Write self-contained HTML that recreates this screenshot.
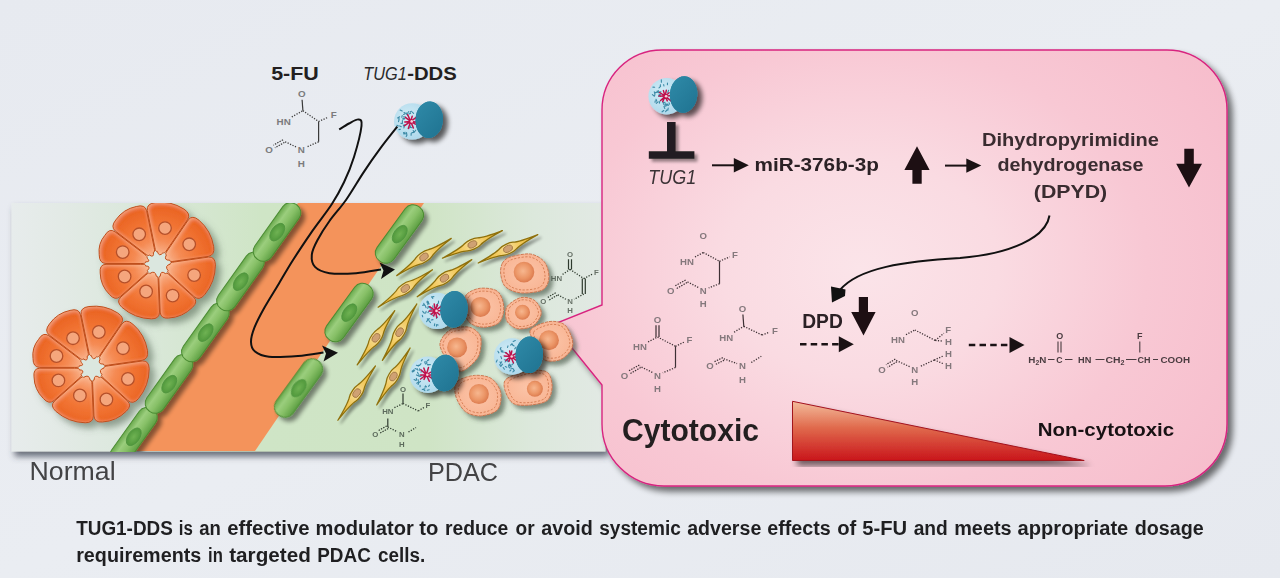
<!DOCTYPE html>
<html lang="en"><head><meta charset="utf-8"><title>TUG1-DDS graphical abstract</title>
<style>html,body{margin:0;padding:0;background:#e9ecf1;}body{width:1280px;height:578px;overflow:hidden;font-family:"Liberation Sans", sans-serif;}svg{display:block}</style>
</head><body>
<svg width="1280" height="578" viewBox="0 0 1280 578">
<defs>
<linearGradient id="bg" x1="0" y1="0" x2="1" y2="1">
 <stop offset="0" stop-color="#e7eaf0"/><stop offset="0.5" stop-color="#eaedf2"/><stop offset="1" stop-color="#e6e9ef"/>
</linearGradient>
<linearGradient id="panel" x1="0" y1="0" x2="1" y2="0">
 <stop offset="0" stop-color="#e7ecec"/><stop offset="0.08" stop-color="#e3eae6"/><stop offset="0.2" stop-color="#dbe8dc"/><stop offset="0.42" stop-color="#cfe5c6"/>
 <stop offset="0.7" stop-color="#cfe4c5"/><stop offset="0.88" stop-color="#dce8dc"/><stop offset="1" stop-color="#e2e9e4"/>
</linearGradient>
<radialGradient id="pink" gradientUnits="userSpaceOnUse" cx="860" cy="268" r="430" gradientTransform="translate(860 268) scale(1.15 0.9) translate(-860 -268)">
 <stop offset="0" stop-color="#fbe4e9"/><stop offset="0.28" stop-color="#fadbe2"/><stop offset="0.58" stop-color="#f8c8d4"/><stop offset="1" stop-color="#f6b9c9"/>
</radialGradient>
<linearGradient id="tri" x1="0" y1="0" x2="0" y2="1">
 <stop offset="0" stop-color="#f3bd9c"/><stop offset="0.45" stop-color="#e0694c"/><stop offset="1" stop-color="#c9151b"/>
</linearGradient>
<linearGradient id="gcell" x1="0" y1="0" x2="0" y2="1">
 <stop offset="0" stop-color="#69a94d"/><stop offset="0.3" stop-color="#9bce7d"/><stop offset="0.6" stop-color="#87c067"/><stop offset="1" stop-color="#5d9f43"/>
</linearGradient>
<radialGradient id="gnuc" cx="0.5" cy="0.5" r="0.6">
 <stop offset="0" stop-color="#6fb253"/><stop offset="1" stop-color="#4a9337"/>
</radialGradient>
<linearGradient id="spin" x1="0" y1="0" x2="1" y2="0">
 <stop offset="0" stop-color="#e8ad1a"/><stop offset="0.3" stop-color="#f2c95c"/><stop offset="0.5" stop-color="#f7dd96"/><stop offset="0.7" stop-color="#f2c95c"/><stop offset="1" stop-color="#e8ad1a"/>
</linearGradient>
<radialGradient id="cnuc" cx="0.45" cy="0.45" r="0.6">
 <stop offset="0" stop-color="#f7b78f"/><stop offset="0.6" stop-color="#eb9566"/><stop offset="1" stop-color="#d9764a"/>
</radialGradient>
<radialGradient id="ccell" cx="0.5" cy="0.5" r="0.6">
 <stop offset="0" stop-color="#fbc4a8"/><stop offset="0.7" stop-color="#f9b898"/><stop offset="1" stop-color="#f7ae8b"/>
</radialGradient>
<radialGradient id="lb" cx="0.4" cy="0.4" r="0.7">
 <stop offset="0" stop-color="#d3ecf6"/><stop offset="1" stop-color="#a9d6ea"/>
</radialGradient>
<linearGradient id="teal" x1="0" y1="0" x2="1" y2="1">
 <stop offset="0" stop-color="#2f8aa8"/><stop offset="1" stop-color="#1f7391"/>
</linearGradient>
<filter id="sh" x="-20%" y="-20%" width="150%" height="150%">
 <feGaussianBlur in="SourceAlpha" stdDeviation="2.2"/><feOffset dx="4" dy="4"/>
 <feComponentTransfer><feFuncA type="linear" slope="0.45"/></feComponentTransfer>
 <feMerge><feMergeNode/><feMergeNode in="SourceGraphic"/></feMerge>
</filter>
<filter id="shn" x="-30%" y="-30%" width="170%" height="170%">
 <feGaussianBlur in="SourceAlpha" stdDeviation="2.4"/><feOffset dx="4.5" dy="3.5"/>
 <feComponentTransfer><feFuncA type="linear" slope="0.62"/></feComponentTransfer>
 <feMerge><feMergeNode/><feMergeNode in="SourceGraphic"/></feMerge>
</filter>
<filter id="shc" x="-20%" y="-20%" width="150%" height="150%">
 <feGaussianBlur in="SourceAlpha" stdDeviation="2.2"/><feOffset dx="4" dy="4" result="o"/>
 <feFlood flood-color="#3f4f3f" flood-opacity="0.6"/><feComposite in2="o" operator="in"/>
 <feMerge><feMergeNode/><feMergeNode in="SourceGraphic"/></feMerge>
</filter>
<filter id="ig" x="-15%" y="-15%" width="130%" height="130%">
 <feComponentTransfer in="SourceAlpha" result="inv"><feFuncA type="table" tableValues="1 0"/></feComponentTransfer>
 <feGaussianBlur in="inv" stdDeviation="2.2"/><feOffset dx="0.8" dy="0.8"/>
 <feComposite in2="SourceAlpha" operator="in" result="g"/>
 <feFlood flood-color="#fcc7a4" flood-opacity="0.7"/><feComposite in2="g" operator="in" result="glow"/>
 <feMerge><feMergeNode in="SourceGraphic"/><feMergeNode in="glow"/></feMerge>
</filter>
<filter id="shs" x="-20%" y="-20%" width="150%" height="150%">
 <feGaussianBlur in="SourceAlpha" stdDeviation="1.6"/><feOffset dx="3" dy="3"/>
 <feComponentTransfer><feFuncA type="linear" slope="0.4"/></feComponentTransfer>
 <feMerge><feMergeNode/><feMergeNode in="SourceGraphic"/></feMerge>
</filter>
<filter id="shbig" x="-5%" y="-5%" width="112%" height="115%">
 <feGaussianBlur in="SourceAlpha" stdDeviation="3"/><feOffset dx="5" dy="5"/>
 <feComponentTransfer><feFuncA type="linear" slope="0.55"/></feComponentTransfer>
 <feMerge><feMergeNode/><feMergeNode in="SourceGraphic"/></feMerge>
</filter>
<filter id="shpanel" x="-3%" y="-5%" width="106%" height="112%">
 <feGaussianBlur in="SourceAlpha" stdDeviation="3"/><feOffset dx="3" dy="4.5" result="o"/>
 <feFlood flood-color="#3d4352" flood-opacity="0.75"/><feComposite in2="o" operator="in"/>
 <feMerge><feMergeNode/><feMergeNode in="SourceGraphic"/></feMerge>
</filter>
<filter id="shac" x="-20%" y="-20%" width="150%" height="150%">
 <feGaussianBlur in="SourceAlpha" stdDeviation="3.6"/><feOffset dx="5" dy="5" result="o"/>
 <feFlood flood-color="#4c5f4c" flood-opacity="0.55"/><feComposite in2="o" operator="in"/>
 <feMerge><feMergeNode/><feMergeNode in="SourceGraphic"/></feMerge>
</filter>
<clipPath id="pclip"><rect x="11.5" y="203" width="594" height="248.5"/></clipPath>
</defs>

<rect width="1280" height="578" fill="url(#bg)"/>
<rect x="11.5" y="203" width="594" height="248.5" fill="url(#panel)" filter="url(#shpanel)"/>
<g clip-path="url(#pclip)">
<polygon points="298,203 424,203 255,451 119,451" fill="#f4935b"/>
<radialGradient id="ac1" gradientUnits="userSpaceOnUse" cx="157.8" cy="263.9" r="60"><stop offset="0.18" stop-color="#f9b089"/><stop offset="0.4" stop-color="#f58b54"/><stop offset="0.7" stop-color="#f17332"/><stop offset="1" stop-color="#e96222"/></radialGradient>
<g filter="url(#shac)">
<circle cx="157.2" cy="260.9" r="50" fill="#e8692c"/>
<circle cx="157.8" cy="263.9" r="14.5" fill="#dbe7df"/>
<path d="M144.5,253.3 L115.4,231.1 Q110.2,226.8 115.8,219.9 Q123.4,209.1 136.3,206.5 Q145,204.1 146.6,210.7 L154.1,247.3 Q155.3,252.7 153.4,252.2 Q154.3,258.4 149.2,254.9 Q148.8,256.8 144.5,253.3 Z" fill="url(#ac1)" filter="url(#ig)"/><path d="M144.5,253.3 L115.4,231.1 Q110.2,226.8 115.8,219.9 Q123.4,209.1 136.3,206.5 Q145,204.1 146.6,210.7 L154.1,247.3 Q155.3,252.7 153.4,252.2 Q154.3,258.4 149.2,254.9 Q148.8,256.8 144.5,253.3 Z" fill="none" stroke="#bf4f1d" stroke-width="1" stroke-linejoin="round"/>
<path d="M154.8,247.2 L147.3,210.6 Q146.2,203.8 155.1,202.6 Q170.6,200.6 183.8,209 Q191.2,213.8 187.6,219.6 L167.1,249.7 Q164.1,254.3 163.1,252.6 Q159.1,257.5 157.3,251.4 Q155.7,252.6 154.8,247.2 Z" fill="url(#ac1)" filter="url(#ig)"/><path d="M154.8,247.2 L147.3,210.6 Q146.2,203.8 155.1,202.6 Q170.6,200.6 183.8,209 Q191.2,213.8 187.6,219.6 L167.1,249.7 Q164.1,254.3 163.1,252.6 Q159.1,257.5 157.3,251.4 Q155.7,252.6 154.8,247.2 Z" fill="none" stroke="#bf4f1d" stroke-width="1" stroke-linejoin="round"/>
<path d="M167.7,250.1 L188.2,220 Q192.2,214.5 199,220.2 Q211.1,230.7 213.7,246.7 Q215,255.1 208.3,256.4 L174.6,261.2 Q169.2,262.1 169.7,260.2 Q163.3,260.5 166.4,254.8 Q164.4,254.5 167.7,250.1 Z" fill="url(#ac1)" filter="url(#ig)"/><path d="M167.7,250.1 L188.2,220 Q192.2,214.5 199,220.2 Q211.1,230.7 213.7,246.7 Q215,255.1 208.3,256.4 L174.6,261.2 Q169.2,262.1 169.7,260.2 Q163.3,260.5 166.4,254.8 Q164.4,254.5 167.7,250.1 Z" fill="none" stroke="#bf4f1d" stroke-width="1" stroke-linejoin="round"/>
<path d="M174.7,261.9 L208.4,257.1 Q215.1,256.4 215.4,264.8 Q215.4,281.7 204.6,294.8 Q199.3,301 194.1,296.6 L170.6,275.1 Q166.4,271.5 168.2,270.8 Q164,265.8 170.3,264.1 Q169.2,262.5 174.7,261.9 Z" fill="url(#ac1)" filter="url(#ig)"/><path d="M174.7,261.9 L208.4,257.1 Q215.1,256.4 215.4,264.8 Q215.4,281.7 204.6,294.8 Q199.3,301 194.1,296.6 L170.6,275.1 Q166.4,271.5 168.2,270.8 Q164,265.8 170.3,264.1 Q169.2,262.5 174.7,261.9 Z" fill="none" stroke="#bf4f1d" stroke-width="1" stroke-linejoin="round"/>
<path d="M170.1,275.6 L193.6,297 Q198.5,301.8 192.5,307.3 Q182.7,317.2 168.7,318.1 Q160.7,318.9 160.2,312.1 L158.9,280.9 Q158.5,275.4 160.3,276.2 Q160.5,269.8 165.6,273.7 Q166.2,271.8 170.1,275.6 Z" fill="url(#ac1)" filter="url(#ig)"/><path d="M170.1,275.6 L193.6,297 Q198.5,301.8 192.5,307.3 Q182.7,317.2 168.7,318.1 Q160.7,318.9 160.2,312.1 L158.9,280.9 Q158.5,275.4 160.3,276.2 Q160.5,269.8 165.6,273.7 Q166.2,271.8 170.1,275.6 Z" fill="none" stroke="#bf4f1d" stroke-width="1" stroke-linejoin="round"/>
<path d="M158.2,280.9 L159.5,312.1 Q159.5,319 151.4,318.9 Q134.6,318.4 122,307.4 Q115.9,301.8 120.8,297.1 L145.3,275.4 Q149.3,271.7 149.8,273.5 Q155.3,269.9 156.4,276.3 Q158.1,275.4 158.2,280.9 Z" fill="url(#ac1)" filter="url(#ig)"/><path d="M158.2,280.9 L159.5,312.1 Q159.5,319 151.4,318.9 Q134.6,318.4 122,307.4 Q115.9,301.8 120.8,297.1 L145.3,275.4 Q149.3,271.7 149.8,273.5 Q155.3,269.9 156.4,276.3 Q158.1,275.4 158.2,280.9 Z" fill="none" stroke="#bf4f1d" stroke-width="1" stroke-linejoin="round"/>
<path d="M144.8,274.9 L120.3,296.6 Q115.1,300.9 109.6,294.6 Q100.5,285.6 100.2,273 Q99.2,264.5 106,264.3 L140.8,264.3 Q146.3,264.1 145.5,265.9 Q151.7,266.2 147.3,270.6 Q149.1,271.4 144.8,274.9 Z" fill="url(#ac1)" filter="url(#ig)"/><path d="M144.8,274.9 L120.3,296.6 Q115.1,300.9 109.6,294.6 Q100.5,285.6 100.2,273 Q99.2,264.5 106,264.3 L140.8,264.3 Q146.3,264.1 145.5,265.9 Q151.7,266.2 147.3,270.6 Q149.1,271.4 144.8,274.9 Z" fill="none" stroke="#bf4f1d" stroke-width="1" stroke-linejoin="round"/>
<path d="M140.8,263.5 L106,263.5 Q99.1,263.3 99.2,254.6 Q97.9,243.7 104.8,235.4 Q109.4,227.8 115,231.8 L144.1,253.9 Q148.5,257.1 146.8,258 Q151.6,261.8 145.5,261.9 Q146.3,263.7 140.8,263.5 Z" fill="url(#ac1)" filter="url(#ig)"/><path d="M140.8,263.5 L106,263.5 Q99.1,263.3 99.2,254.6 Q97.9,243.7 104.8,235.4 Q109.4,227.8 115,231.8 L144.1,253.9 Q148.5,257.1 146.8,258 Q151.6,261.8 145.5,261.9 Q146.3,263.7 140.8,263.5 Z" fill="none" stroke="#bf4f1d" stroke-width="1" stroke-linejoin="round"/>
</g>
<circle cx="139.2" cy="234.3" r="6.3" fill="#f5a67d" stroke="#b5502a" stroke-width="1.3"/>
<circle cx="165" cy="228.1" r="6.3" fill="#f5a67d" stroke="#b5502a" stroke-width="1.3"/>
<circle cx="189.2" cy="244.3" r="6.3" fill="#f5a67d" stroke="#b5502a" stroke-width="1.3"/>
<circle cx="194.1" cy="275.1" r="6.3" fill="#f5a67d" stroke="#b5502a" stroke-width="1.3"/>
<circle cx="172.6" cy="295.6" r="6.3" fill="#f5a67d" stroke="#b5502a" stroke-width="1.3"/>
<circle cx="146.1" cy="291.5" r="6.3" fill="#f5a67d" stroke="#b5502a" stroke-width="1.3"/>
<circle cx="124.6" cy="276.5" r="6.3" fill="#f5a67d" stroke="#b5502a" stroke-width="1.3"/>
<circle cx="122.7" cy="252.1" r="6.3" fill="#f5a67d" stroke="#b5502a" stroke-width="1.3"/>
<radialGradient id="ac2" gradientUnits="userSpaceOnUse" cx="91.6" cy="367.8" r="60"><stop offset="0.18" stop-color="#f9b089"/><stop offset="0.4" stop-color="#f58b54"/><stop offset="0.7" stop-color="#f17332"/><stop offset="1" stop-color="#e96222"/></radialGradient>
<g filter="url(#shac)">
<circle cx="91" cy="364.8" r="50" fill="#e8692c"/>
<circle cx="91.6" cy="367.8" r="14.5" fill="#dbe7df"/>
<path d="M78.3,357.2 L49.2,335 Q44,330.7 49.6,323.8 Q57.2,313 70.1,310.4 Q78.8,308 80.4,314.6 L87.9,351.2 Q89.1,356.6 87.2,356.1 Q88.1,362.3 83,358.8 Q82.6,360.7 78.3,357.2 Z" fill="url(#ac2)" filter="url(#ig)"/><path d="M78.3,357.2 L49.2,335 Q44,330.7 49.6,323.8 Q57.2,313 70.1,310.4 Q78.8,308 80.4,314.6 L87.9,351.2 Q89.1,356.6 87.2,356.1 Q88.1,362.3 83,358.8 Q82.6,360.7 78.3,357.2 Z" fill="none" stroke="#bf4f1d" stroke-width="1" stroke-linejoin="round"/>
<path d="M88.6,351.1 L81.1,314.5 Q80,307.7 88.9,306.5 Q104.4,304.5 117.6,312.9 Q125,317.7 121.4,323.5 L100.9,353.6 Q97.9,358.2 96.9,356.5 Q92.9,361.4 91.1,355.3 Q89.5,356.5 88.6,351.1 Z" fill="url(#ac2)" filter="url(#ig)"/><path d="M88.6,351.1 L81.1,314.5 Q80,307.7 88.9,306.5 Q104.4,304.5 117.6,312.9 Q125,317.7 121.4,323.5 L100.9,353.6 Q97.9,358.2 96.9,356.5 Q92.9,361.4 91.1,355.3 Q89.5,356.5 88.6,351.1 Z" fill="none" stroke="#bf4f1d" stroke-width="1" stroke-linejoin="round"/>
<path d="M101.5,354 L122,323.9 Q126,318.4 132.8,324.1 Q144.9,334.6 147.5,350.6 Q148.8,359 142.1,360.3 L108.4,365.1 Q103,366 103.5,364.1 Q97.1,364.4 100.2,358.7 Q98.2,358.4 101.5,354 Z" fill="url(#ac2)" filter="url(#ig)"/><path d="M101.5,354 L122,323.9 Q126,318.4 132.8,324.1 Q144.9,334.6 147.5,350.6 Q148.8,359 142.1,360.3 L108.4,365.1 Q103,366 103.5,364.1 Q97.1,364.4 100.2,358.7 Q98.2,358.4 101.5,354 Z" fill="none" stroke="#bf4f1d" stroke-width="1" stroke-linejoin="round"/>
<path d="M108.5,365.8 L142.2,361 Q148.9,360.3 149.2,368.7 Q149.2,385.6 138.4,398.7 Q133.1,404.9 127.9,400.5 L104.4,379 Q100.2,375.4 102,374.7 Q97.8,369.7 104.1,368 Q103,366.4 108.5,365.8 Z" fill="url(#ac2)" filter="url(#ig)"/><path d="M108.5,365.8 L142.2,361 Q148.9,360.3 149.2,368.7 Q149.2,385.6 138.4,398.7 Q133.1,404.9 127.9,400.5 L104.4,379 Q100.2,375.4 102,374.7 Q97.8,369.7 104.1,368 Q103,366.4 108.5,365.8 Z" fill="none" stroke="#bf4f1d" stroke-width="1" stroke-linejoin="round"/>
<path d="M103.9,379.5 L127.4,400.9 Q132.3,405.7 126.3,411.2 Q116.5,421.1 102.5,422 Q94.5,422.8 94,416 L92.7,384.8 Q92.3,379.3 94.1,380.1 Q94.3,373.7 99.4,377.6 Q100,375.7 103.9,379.5 Z" fill="url(#ac2)" filter="url(#ig)"/><path d="M103.9,379.5 L127.4,400.9 Q132.3,405.7 126.3,411.2 Q116.5,421.1 102.5,422 Q94.5,422.8 94,416 L92.7,384.8 Q92.3,379.3 94.1,380.1 Q94.3,373.7 99.4,377.6 Q100,375.7 103.9,379.5 Z" fill="none" stroke="#bf4f1d" stroke-width="1" stroke-linejoin="round"/>
<path d="M92,384.8 L93.3,416 Q93.3,422.9 85.2,422.8 Q68.4,422.3 55.8,411.3 Q49.7,405.7 54.6,401 L79.1,379.3 Q83.1,375.6 83.6,377.4 Q89.1,373.8 90.2,380.2 Q91.9,379.3 92,384.8 Z" fill="url(#ac2)" filter="url(#ig)"/><path d="M92,384.8 L93.3,416 Q93.3,422.9 85.2,422.8 Q68.4,422.3 55.8,411.3 Q49.7,405.7 54.6,401 L79.1,379.3 Q83.1,375.6 83.6,377.4 Q89.1,373.8 90.2,380.2 Q91.9,379.3 92,384.8 Z" fill="none" stroke="#bf4f1d" stroke-width="1" stroke-linejoin="round"/>
<path d="M78.6,378.8 L54.1,400.5 Q48.9,404.8 43.4,398.5 Q34.3,389.5 34,376.9 Q33,368.4 39.8,368.2 L74.6,368.2 Q80.1,368 79.3,369.8 Q85.5,370.1 81.1,374.5 Q82.9,375.3 78.6,378.8 Z" fill="url(#ac2)" filter="url(#ig)"/><path d="M78.6,378.8 L54.1,400.5 Q48.9,404.8 43.4,398.5 Q34.3,389.5 34,376.9 Q33,368.4 39.8,368.2 L74.6,368.2 Q80.1,368 79.3,369.8 Q85.5,370.1 81.1,374.5 Q82.9,375.3 78.6,378.8 Z" fill="none" stroke="#bf4f1d" stroke-width="1" stroke-linejoin="round"/>
<path d="M74.6,367.4 L39.8,367.4 Q32.9,367.2 33,358.5 Q31.7,347.6 38.6,339.3 Q43.2,331.7 48.8,335.7 L77.9,357.8 Q82.3,361 80.6,361.9 Q85.4,365.7 79.3,365.8 Q80.1,367.6 74.6,367.4 Z" fill="url(#ac2)" filter="url(#ig)"/><path d="M74.6,367.4 L39.8,367.4 Q32.9,367.2 33,358.5 Q31.7,347.6 38.6,339.3 Q43.2,331.7 48.8,335.7 L77.9,357.8 Q82.3,361 80.6,361.9 Q85.4,365.7 79.3,365.8 Q80.1,367.6 74.6,367.4 Z" fill="none" stroke="#bf4f1d" stroke-width="1" stroke-linejoin="round"/>
</g>
<circle cx="73" cy="338.2" r="6.3" fill="#f5a67d" stroke="#b5502a" stroke-width="1.3"/>
<circle cx="98.8" cy="332" r="6.3" fill="#f5a67d" stroke="#b5502a" stroke-width="1.3"/>
<circle cx="123" cy="348.2" r="6.3" fill="#f5a67d" stroke="#b5502a" stroke-width="1.3"/>
<circle cx="127.9" cy="379" r="6.3" fill="#f5a67d" stroke="#b5502a" stroke-width="1.3"/>
<circle cx="106.4" cy="399.5" r="6.3" fill="#f5a67d" stroke="#b5502a" stroke-width="1.3"/>
<circle cx="79.9" cy="395.4" r="6.3" fill="#f5a67d" stroke="#b5502a" stroke-width="1.3"/>
<circle cx="58.4" cy="380.4" r="6.3" fill="#f5a67d" stroke="#b5502a" stroke-width="1.3"/>
<circle cx="56.5" cy="356" r="6.3" fill="#f5a67d" stroke="#b5502a" stroke-width="1.3"/>
<g filter="url(#sh)">
<g transform="translate(97,487) rotate(-54.5)"><rect x="-33.5" y="-10.0" width="67" height="20" rx="9.5" ry="9.5" fill="url(#gcell)" stroke="#4b8c33" stroke-width="1"/><ellipse cx="0" cy="0.3" rx="10" ry="5.8" fill="url(#gnuc)" stroke="#4f9540" stroke-width="0.8"/></g>
<g transform="translate(133.5,436.6) rotate(-54.5)"><rect x="-33.5" y="-10.0" width="67" height="20" rx="9.5" ry="9.5" fill="url(#gcell)" stroke="#4b8c33" stroke-width="1"/><ellipse cx="0" cy="0.3" rx="10" ry="5.8" fill="url(#gnuc)" stroke="#4f9540" stroke-width="0.8"/></g>
<g transform="translate(169,384) rotate(-54.5)"><rect x="-33.5" y="-10.0" width="67" height="20" rx="9.5" ry="9.5" fill="url(#gcell)" stroke="#4b8c33" stroke-width="1"/><ellipse cx="0" cy="0.3" rx="10" ry="5.8" fill="url(#gnuc)" stroke="#4f9540" stroke-width="0.8"/></g>
<g transform="translate(205.4,332.5) rotate(-54.5)"><rect x="-33.5" y="-10.0" width="67" height="20" rx="9.5" ry="9.5" fill="url(#gcell)" stroke="#4b8c33" stroke-width="1"/><ellipse cx="0" cy="0.3" rx="10" ry="5.8" fill="url(#gnuc)" stroke="#4f9540" stroke-width="0.8"/></g>
<g transform="translate(240.5,281.5) rotate(-54.5)"><rect x="-33.5" y="-10.0" width="67" height="20" rx="9.5" ry="9.5" fill="url(#gcell)" stroke="#4b8c33" stroke-width="1"/><ellipse cx="0" cy="0.3" rx="10" ry="5.8" fill="url(#gnuc)" stroke="#4f9540" stroke-width="0.8"/></g>
<g transform="translate(277,232) rotate(-54.5)"><rect x="-33.5" y="-10.0" width="67" height="20" rx="9.5" ry="9.5" fill="url(#gcell)" stroke="#4b8c33" stroke-width="1"/><ellipse cx="0" cy="0.3" rx="10" ry="5.8" fill="url(#gnuc)" stroke="#4f9540" stroke-width="0.8"/></g>
</g>
<g filter="url(#sh)">
<g transform="translate(399.5,234) rotate(-54)"><rect x="-33.5" y="-10.25" width="67" height="20.5" rx="9.5" ry="9.5" fill="url(#gcell)" stroke="#4b8c33" stroke-width="1"/><ellipse cx="0" cy="0.3" rx="10" ry="5.8" fill="url(#gnuc)" stroke="#4f9540" stroke-width="0.8"/></g>
<g transform="translate(349,312.5) rotate(-54)"><rect x="-33.5" y="-10.25" width="67" height="20.5" rx="9.5" ry="9.5" fill="url(#gcell)" stroke="#4b8c33" stroke-width="1"/><ellipse cx="0" cy="0.3" rx="10" ry="5.8" fill="url(#gnuc)" stroke="#4f9540" stroke-width="0.8"/></g>
<g transform="translate(298.5,388) rotate(-54)"><rect x="-33.5" y="-10.25" width="67" height="20.5" rx="9.5" ry="9.5" fill="url(#gcell)" stroke="#4b8c33" stroke-width="1"/><ellipse cx="0" cy="0.3" rx="10" ry="5.8" fill="url(#gnuc)" stroke="#4f9540" stroke-width="0.8"/></g>
</g>
<g filter="url(#shs)">
<g transform="translate(424,257) rotate(-34.3)"><path d="M-33.0,0 C-19.8,-0.9 -11.879999999999999,-1.8 -7.26,-3.8 C-3.96,-5.3 3.96,-5.3 7.26,-3.8 C11.879999999999999,-1.8 19.8,-0.9 33.0,0 C19.8,0.9 11.879999999999999,1.8 7.26,3.8 C3.96,5.3 -3.96,5.3 -7.26,3.8 C-11.879999999999999,1.8 -19.8,0.9 -33.0,0 Z" fill="url(#spin)" stroke="#8f700c" stroke-width="1.25" stroke-linejoin="round"/><ellipse cx="0" cy="0" rx="4.8" ry="3.2" fill="#cfa173" stroke="#a0753f" stroke-width="0.8"/></g>
<g transform="translate(472.4,244.4) rotate(-24.7)"><path d="M-33.0,0 C-19.8,-0.9 -11.879999999999999,-1.8 -7.26,-3.8 C-3.96,-5.3 3.96,-5.3 7.26,-3.8 C11.879999999999999,-1.8 19.8,-0.9 33.0,0 C19.8,0.9 11.879999999999999,1.8 7.26,3.8 C3.96,5.3 -3.96,5.3 -7.26,3.8 C-11.879999999999999,1.8 -19.8,0.9 -33.0,0 Z" fill="url(#spin)" stroke="#8f700c" stroke-width="1.25" stroke-linejoin="round"/><ellipse cx="0" cy="0" rx="4.8" ry="3.2" fill="#cfa173" stroke="#a0753f" stroke-width="0.8"/></g>
<g transform="translate(508,248.8) rotate(-25.5)"><path d="M-33.0,0 C-19.8,-0.9 -11.879999999999999,-1.8 -7.26,-3.8 C-3.96,-5.3 3.96,-5.3 7.26,-3.8 C11.879999999999999,-1.8 19.8,-0.9 33.0,0 C19.8,0.9 11.879999999999999,1.8 7.26,3.8 C3.96,5.3 -3.96,5.3 -7.26,3.8 C-11.879999999999999,1.8 -19.8,0.9 -33.0,0 Z" fill="url(#spin)" stroke="#8f700c" stroke-width="1.25" stroke-linejoin="round"/><ellipse cx="0" cy="0" rx="4.8" ry="3.2" fill="#cfa173" stroke="#a0753f" stroke-width="0.8"/></g>
<g transform="translate(405.3,288.5) rotate(-34.6)"><path d="M-33.0,0 C-19.8,-0.9 -11.879999999999999,-1.8 -7.26,-3.8 C-3.96,-5.3 3.96,-5.3 7.26,-3.8 C11.879999999999999,-1.8 19.8,-0.9 33.0,0 C19.8,0.9 11.879999999999999,1.8 7.26,3.8 C3.96,5.3 -3.96,5.3 -7.26,3.8 C-11.879999999999999,1.8 -19.8,0.9 -33.0,0 Z" fill="url(#spin)" stroke="#8f700c" stroke-width="1.25" stroke-linejoin="round"/><ellipse cx="0" cy="0" rx="4.8" ry="3.2" fill="#cfa173" stroke="#a0753f" stroke-width="0.8"/></g>
<g transform="translate(444.5,278.2) rotate(-34.2)"><path d="M-33.0,0 C-19.8,-0.9 -11.879999999999999,-1.8 -7.26,-3.8 C-3.96,-5.3 3.96,-5.3 7.26,-3.8 C11.879999999999999,-1.8 19.8,-0.9 33.0,0 C19.8,0.9 11.879999999999999,1.8 7.26,3.8 C3.96,5.3 -3.96,5.3 -7.26,3.8 C-11.879999999999999,1.8 -19.8,0.9 -33.0,0 Z" fill="url(#spin)" stroke="#8f700c" stroke-width="1.25" stroke-linejoin="round"/><ellipse cx="0" cy="0" rx="4.8" ry="3.2" fill="#cfa173" stroke="#a0753f" stroke-width="0.8"/></g>
<g transform="translate(376,337.8) rotate(-55.3)"><path d="M-33.0,0 C-19.8,-0.9 -11.879999999999999,-1.8 -7.26,-3.8 C-3.96,-5.3 3.96,-5.3 7.26,-3.8 C11.879999999999999,-1.8 19.8,-0.9 33.0,0 C19.8,0.9 11.879999999999999,1.8 7.26,3.8 C3.96,5.3 -3.96,5.3 -7.26,3.8 C-11.879999999999999,1.8 -19.8,0.9 -33.0,0 Z" fill="url(#spin)" stroke="#8f700c" stroke-width="1.25" stroke-linejoin="round"/><ellipse cx="0" cy="0" rx="4.8" ry="3.2" fill="#cfa173" stroke="#a0753f" stroke-width="0.8"/></g>
<g transform="translate(399.6,332.2) rotate(-58.6)"><path d="M-33.0,0 C-19.8,-0.9 -11.879999999999999,-1.8 -7.26,-3.8 C-3.96,-5.3 3.96,-5.3 7.26,-3.8 C11.879999999999999,-1.8 19.8,-0.9 33.0,0 C19.8,0.9 11.879999999999999,1.8 7.26,3.8 C3.96,5.3 -3.96,5.3 -7.26,3.8 C-11.879999999999999,1.8 -19.8,0.9 -33.0,0 Z" fill="url(#spin)" stroke="#8f700c" stroke-width="1.25" stroke-linejoin="round"/><ellipse cx="0" cy="0" rx="4.8" ry="3.2" fill="#cfa173" stroke="#a0753f" stroke-width="0.8"/></g>
<g transform="translate(356.7,393.1) rotate(-55.3)"><path d="M-33.0,0 C-19.8,-0.9 -11.879999999999999,-1.8 -7.26,-3.8 C-3.96,-5.3 3.96,-5.3 7.26,-3.8 C11.879999999999999,-1.8 19.8,-0.9 33.0,0 C19.8,0.9 11.879999999999999,1.8 7.26,3.8 C3.96,5.3 -3.96,5.3 -7.26,3.8 C-11.879999999999999,1.8 -19.8,0.9 -33.0,0 Z" fill="url(#spin)" stroke="#8f700c" stroke-width="1.25" stroke-linejoin="round"/><ellipse cx="0" cy="0" rx="4.8" ry="3.2" fill="#cfa173" stroke="#a0753f" stroke-width="0.8"/></g>
<g transform="translate(393.4,376.5) rotate(-59.6)"><path d="M-33.0,0 C-19.8,-0.9 -11.879999999999999,-1.8 -7.26,-3.8 C-3.96,-5.3 3.96,-5.3 7.26,-3.8 C11.879999999999999,-1.8 19.8,-0.9 33.0,0 C19.8,0.9 11.879999999999999,1.8 7.26,3.8 C3.96,5.3 -3.96,5.3 -7.26,3.8 C-11.879999999999999,1.8 -19.8,0.9 -33.0,0 Z" fill="url(#spin)" stroke="#8f700c" stroke-width="1.25" stroke-linejoin="round"/><ellipse cx="0" cy="0" rx="4.8" ry="3.2" fill="#cfa173" stroke="#a0753f" stroke-width="0.8"/></g>
</g>
</g>
<path d="M568.5,259.3 L568.5,269.4 M571.5,259.3 L571.5,269.4" stroke="#2e3a2e" stroke-width="1.2" fill="none"/>
<path d="M562.6,274.4 L570,269.4" stroke="#2e3a2e" stroke-width="1.3" stroke-dasharray="1.2 1.5" fill="none"/>
<path d="M570,269.4 L583.8,278.6" stroke="#2e3a2e" stroke-width="1.3" stroke-dasharray="1.2 1.5" fill="none"/>
<path d="M583.8,278.6 L592.2,274.2" stroke="#2e3a2e" stroke-width="1.3" stroke-dasharray="1.2 1.5" fill="none"/>
<path d="M582.3,278.6 L582.3,294 M585.3,278.6 L585.3,294" stroke="#2e3a2e" stroke-width="1.2" fill="none"/>
<path d="M583.8,294 L574.1,299.3" stroke="#2e3a2e" stroke-width="1.3" stroke-dasharray="1.2 1.5" fill="none"/>
<path d="M565.9,299.3 L556.5,294" stroke="#2e3a2e" stroke-width="1.3" stroke-dasharray="1.2 1.5" fill="none"/>
<path d="M555.7,292.7 L546.7,298 M557.3,295.3 L548.2,300.5" stroke="#2e3a2e" stroke-width="1.2" stroke-dasharray="1.4 1.2" fill="none"/>
<text x="570" y="257.4" font-size="7.8" text-anchor="middle" fill="#667066" font-weight="bold" font-family='"Liberation Sans", sans-serif'>O</text>
<text x="556.5" y="281.4" font-size="7.8" text-anchor="middle" fill="#667066" font-weight="bold" font-family='"Liberation Sans", sans-serif'>HN</text>
<text x="596.3" y="274.8" font-size="7.8" text-anchor="middle" fill="#667066" font-weight="bold" font-family='"Liberation Sans", sans-serif'>F</text>
<text x="570" y="304.4" font-size="7.8" text-anchor="middle" fill="#667066" font-weight="bold" font-family='"Liberation Sans", sans-serif'>N</text>
<text x="570" y="313.3" font-size="7.8" text-anchor="middle" fill="#667066" font-weight="bold" font-family='"Liberation Sans", sans-serif'>H</text>
<text x="543.4" y="304.4" font-size="7.8" text-anchor="middle" fill="#667066" font-weight="bold" font-family='"Liberation Sans", sans-serif'>O</text>
<path d="M403,393.5 L403,403.5" stroke="#2e3a2e" stroke-width="1.2" fill="none"/>
<path d="M394.4,407.7 L403,403.5" stroke="#2e3a2e" stroke-width="1.3" stroke-dasharray="1.2 1.5" fill="none"/>
<path d="M403,403.5 L418.3,411" stroke="#2e3a2e" stroke-width="1.3" stroke-dasharray="1.2 1.5" fill="none"/>
<path d="M418.3,411 L424,407.4" stroke="#2e3a2e" stroke-width="1.3" stroke-dasharray="1.2 1.5" fill="none"/>
<path d="M380.2,433 L388.5,428.3 M378.7,430.4 L387.1,425.7" stroke="#2e3a2e" stroke-width="1.2" stroke-dasharray="1.4 1.2" fill="none"/>
<path d="M387.8,427 L397.5,431.9" stroke="#2e3a2e" stroke-width="1.3" stroke-dasharray="1.2 1.5" fill="none"/>
<path d="M408.5,432 L416,427.5" stroke="#2e3a2e" stroke-width="1.3" stroke-dasharray="1.2 1.5" fill="none"/>
<path d="M387.8,418.4 L387.8,427" stroke="#2e3a2e" stroke-width="1.2" fill="none"/>
<text x="403" y="391.6" font-size="7.8" text-anchor="middle" fill="#5c6a5c" font-weight="bold" font-family='"Liberation Sans", sans-serif'>O</text>
<text x="387.8" y="413.8" font-size="7.8" text-anchor="middle" fill="#5c6a5c" font-weight="bold" font-family='"Liberation Sans", sans-serif'>HN</text>
<text x="428" y="407.7" font-size="7.8" text-anchor="middle" fill="#5c6a5c" font-weight="bold" font-family='"Liberation Sans", sans-serif'>F</text>
<text x="375.4" y="436.8" font-size="7.8" text-anchor="middle" fill="#5c6a5c" font-weight="bold" font-family='"Liberation Sans", sans-serif'>O</text>
<text x="401.7" y="436.8" font-size="7.8" text-anchor="middle" fill="#5c6a5c" font-weight="bold" font-family='"Liberation Sans", sans-serif'>N</text>
<text x="401.7" y="446.6" font-size="7.8" text-anchor="middle" fill="#5c6a5c" font-weight="bold" font-family='"Liberation Sans", sans-serif'>H</text>
<g filter="url(#shc)">
<path d="M502.3,263.3 C503.7,260.7 505.7,258.6 510,257.1 C514.3,255.7 525,253.3 530.3,254 C535.5,254.7 541.4,258.2 544.3,261.8 C547.2,265.4 549.2,273 548.9,277.4 C548.7,281.7 547,287.4 542.7,289.8 C538.4,292.2 526.7,293.4 520.9,292.9 C515.2,292.4 508.5,289.6 505.4,286.7 C502.3,283.8 501.2,277.8 500.7,274.2 C500.2,270.6 500.8,266 502.3,263.3 Z" fill="url(#ccell)" stroke="#c8724a" stroke-width="0.9" stroke-dasharray="3.2 1"/><path d="M505.3,264.8 C506.6,262.6 508.3,260.7 512,259.5 C515.6,258.3 524.7,256.3 529.2,256.9 C533.6,257.5 538.6,260.4 541.1,263.5 C543.5,266.5 545.2,273 545,276.7 C544.8,280.4 543.4,285.3 539.7,287.3 C536.1,289.3 526.1,290.3 521.2,289.9 C516.3,289.5 510.6,287.1 508,284.6 C505.3,282.2 504.4,277.1 504,274.1 C503.6,271 504.1,267 505.3,264.8 Z" fill="none" stroke="#cf7448" stroke-width="0.8" stroke-dasharray="2.2 1.5"/><circle cx="524" cy="272.1" r="10.3" fill="url(#cnuc)"/>
<path d="M466.5,294.5 C469.1,291.4 475.7,288.7 480.5,288.2 C485.3,287.8 494,288.5 497.6,291.4 C501.2,294.2 503.6,302.1 503.8,306.9 C504.1,311.7 502.3,319.4 499.1,322.5 C496,325.6 488.1,327.2 483.6,327.2 C479,327.2 472.7,325.4 469.6,322.5 C466.5,319.6 463.8,312.8 463.3,308.5 C462.9,304.2 463.8,297.6 466.5,294.5 Z" fill="url(#ccell)" stroke="#c8724a" stroke-width="0.9" stroke-dasharray="3.2 1"/><path d="M468.9,296.5 C471.2,293.8 476.8,291.6 480.8,291.2 C484.9,290.8 492.3,291.4 495.4,293.8 C498.5,296.3 500.5,303 500.7,307 C500.9,311.1 499.4,317.6 496.7,320.3 C494.1,322.9 487.4,324.2 483.5,324.2 C479.6,324.2 474.2,322.7 471.6,320.3 C468.9,317.8 466.7,312 466.3,308.4 C465.9,304.7 466.7,299.1 468.9,296.5 Z" fill="none" stroke="#cf7448" stroke-width="0.8" stroke-dasharray="2.2 1.5"/><circle cx="480.5" cy="306.9" r="10" fill="url(#cnuc)"/>
<path d="M506.9,306.9 C509.1,303.3 516.6,298.5 520.9,297.6 C525.2,296.6 531.8,298.3 534.9,300.7 C538.1,303.1 541.4,309.3 541.2,313.2 C540.9,317 537,323.2 533.4,325.6 C529.8,328 521.9,329.4 517.8,328.7 C513.8,328 508.6,324.3 506.9,320.9 C505.2,317.6 504.8,310.5 506.9,306.9 Z" fill="url(#ccell)" stroke="#c8724a" stroke-width="0.9" stroke-dasharray="3.2 1"/><path d="M509.4,307.9 C511.2,304.8 517.6,300.8 521.3,300 C524.9,299.1 530.5,300.6 533.2,302.6 C535.8,304.6 538.7,309.9 538.5,313.2 C538.3,316.4 534.9,321.7 531.9,323.8 C528.8,325.8 522.1,327 518.6,326.4 C515.2,325.8 510.8,322.6 509.4,319.8 C507.9,317 507.5,310.9 509.4,307.9 Z" fill="none" stroke="#cf7448" stroke-width="0.8" stroke-dasharray="2.2 1.5"/><circle cx="522.5" cy="312.2" r="7.5" fill="url(#cnuc)"/>
<path d="M443.1,336.5 C445,333.9 448.4,330.2 452.5,328.7 C456.5,327.3 465.3,326 469.6,327.2 C473.9,328.4 479,332.2 480.5,336.5 C481.9,340.8 480.8,350.4 478.9,355.2 C477,360 471.1,365.2 468,367.6 C464.9,370 462,372.2 458.7,370.7 C455.3,369.3 449.1,362.1 446.2,358.3 C443.4,354.5 440.5,349.2 440,345.8 C439.5,342.5 441.2,339.1 443.1,336.5 Z" fill="url(#ccell)" stroke="#c8724a" stroke-width="0.9" stroke-dasharray="3.2 1"/><path d="M445.6,338.1 C447.2,335.9 450.1,332.7 453.5,331.5 C457,330.3 464.4,329.2 468.1,330.2 C471.8,331.2 476.1,334.5 477.4,338.1 C478.6,341.8 477.7,349.9 476,354 C474.4,358.1 469.4,362.6 466.8,364.6 C464.1,366.6 461.7,368.5 458.8,367.2 C456,366 450.7,359.9 448.2,356.7 C445.8,353.4 443.4,348.9 443,346.1 C442.6,343.2 444,340.4 445.6,338.1 Z" fill="none" stroke="#cf7448" stroke-width="0.8" stroke-dasharray="2.2 1.5"/><circle cx="457.1" cy="347.4" r="10" fill="url(#cnuc)"/>
<path d="M457.1,381.6 C460,378.5 469,375.9 474.2,375.4 C479.5,374.9 487.3,375.9 491.4,378.5 C495.4,381.2 499.7,387.7 500.7,392.5 C501.7,397.3 500.7,406.1 497.6,409.6 C494.5,413.2 485.5,415.6 480.5,415.9 C475.4,416.1 468.7,414.3 464.9,411.2 C461.1,408.1 456.8,400.2 455.6,395.6 C454.4,391.1 454.2,384.7 457.1,381.6 Z" fill="url(#ccell)" stroke="#c8724a" stroke-width="0.9" stroke-dasharray="3.2 1"/><path d="M460.2,383.6 C462.7,381 470.3,378.8 474.8,378.4 C479.2,377.9 485.9,378.8 489.3,381 C492.8,383.2 496.4,388.8 497.3,392.9 C498.1,397 497.3,404.4 494.6,407.5 C492,410.5 484.3,412.5 480.1,412.8 C475.8,413 470.1,411.4 466.8,408.8 C463.6,406.1 459.9,399.4 458.9,395.6 C457.9,391.7 457.8,386.3 460.2,383.6 Z" fill="none" stroke="#cf7448" stroke-width="0.8" stroke-dasharray="2.2 1.5"/><circle cx="478.9" cy="394.1" r="10" fill="url(#cnuc)"/>
<path d="M506.9,378.5 C510.9,375.6 524,371.7 530.3,370.7 C536.5,369.8 544,369.9 547.4,372.3 C550.7,374.7 552.1,382 552.1,386.3 C552.1,390.6 550.7,397.4 547.4,400.3 C544,403.2 535.5,404.5 530.3,405 C525,405.5 517.1,405.8 513.2,403.4 C509.2,401 505.7,393.2 504.7,389.4 C503.8,385.6 503,381.4 506.9,378.5 Z" fill="url(#ccell)" stroke="#c8724a" stroke-width="0.9" stroke-dasharray="3.2 1"/><path d="M510.2,380 C513.6,377.5 524.8,374.2 530.1,373.4 C535.4,372.6 541.8,372.7 544.6,374.7 C547.5,376.7 548.6,382.9 548.6,386.6 C548.6,390.3 547.5,396.1 544.6,398.5 C541.8,400.9 534.6,402.1 530.1,402.5 C525.6,402.9 518.9,403.2 515.5,401.1 C512.2,399.1 509.2,392.5 508.4,389.2 C507.6,386 506.9,382.4 510.2,380 Z" fill="none" stroke="#cf7448" stroke-width="0.8" stroke-dasharray="2.2 1.5"/><circle cx="534.9" cy="388.8" r="8" fill="url(#cnuc)"/>
</g>
<g filter="url(#shn)">
<circle cx="437" cy="310.9" r="18.2" fill="url(#lb)"/>
<ellipse cx="454" cy="309.2" rx="13.7" ry="18.3" fill="url(#teal)" transform="rotate(4 454 309.2)"/>
</g>
<path d="M428.8,320 L427.3,318.8 M431.8,314.7 L433.3,315.6 M434.7,323.9 L434.4,325.7 M428.5,301.9 L426.9,301.9 M423.8,303.4 L423.9,304.8 M432.9,305.7 L433,307.8 M429.1,304 L428.3,302.5 M430.4,308.2 L428.9,307.1 M425.3,305.6 L426.1,307.7 M438.5,303 L438.5,301.1 M427.3,301 L427.2,302.7 M427.8,304.6 L427.9,302.7 M431.3,320 L433,319.6 M428.2,306.7 L427.8,308.4 M427.6,320 L429.3,318.5 M426.1,311.4 L425.8,312.9 M437.5,304.4 L437.2,306.3 M426.6,321.6 L427.7,320.2 M436.6,304.7 L437.8,305.5 M422.7,311.3 L423.7,312.6 M423.6,312.7 L425.1,313.2 M438,303.3 L437.1,305.1 M422.3,315.3 L422.7,316.8 M429.8,310 L432.1,309.4 M422.5,305.3 L424.7,304.9 M438.1,325.1 L436.6,324.6 M429.1,320.9 L430.5,322.6 M429.3,307.4 L428.1,306.3 M437.4,317.1 L436.4,318.3 M432.8,298.3 L431.6,296.8 M428.9,311.2 L427.9,312.6 M430,313.7 L431.4,314.2 M432.3,296.7 L433.9,296.6 M436.4,326.2 L436.8,324.6 " stroke="#3c8aa6" stroke-width="1.1" fill="none" stroke-linecap="round"/>
<path d="M435.5,310.9 L443,310.5 M435.5,310.9 L439.7,314.7 M435.5,310.9 L436.7,317.4 M435.5,310.9 L433.7,315.9 M435.5,310.9 L431.3,314.2 M435.5,310.9 L429.3,311.1 M435.5,310.9 L429.6,306.7 M435.5,310.9 L434.2,304 M435.5,310.9 L437.3,304.8 M435.5,310.9 L440.6,306.6 " stroke="#c0114c" stroke-width="1.5" fill="none" stroke-linecap="round"/>
<circle cx="436.5" cy="310.9" r="1.3" fill="#f6d3dc"/>
<ellipse cx="454" cy="309.2" rx="13.7" ry="18.3" fill="url(#teal)" transform="rotate(4 454 309.2)"/>
<g filter="url(#shn)">
<circle cx="427.8" cy="374.7" r="18.2" fill="url(#lb)"/>
<ellipse cx="444.8" cy="373" rx="13.7" ry="18.3" fill="url(#teal)" transform="rotate(4 444.8 373)"/>
</g>
<path d="M416.7,383.2 L418.7,382.1 M421.4,360.9 L422.3,359.7 M414.1,369.8 L412.1,371.1 M416.5,379.7 L416.4,378.3 M419.9,370.7 L419.6,368.7 M427.2,390.2 L429.2,389.7 M423.7,389.1 L422.3,389.5 M418.4,374 L417.5,372.3 M420.1,386.7 L420.1,385.3 M423.7,389.7 L424.9,390.7 M426,387.3 L425.6,385.8 M421,363.7 L419.6,365.5 M418.1,384.5 L418.7,383 M424.6,387 L426.5,386.7 M417.7,365.6 L419.7,365.1 M418.2,375.8 L416.5,374.9 M413.2,371.7 L414.6,370.5 M421.6,375.8 L420,376.5 M419.1,374.7 L419.1,376.3 M415.1,368.6 L416.7,369.2 M416.4,365.3 L418.5,366.1 M423.4,389.5 L424.9,388.8 M428.8,359.8 L427.4,360.8 M428.6,386.3 L429.5,385.2 M430.4,364.6 L428.1,364.5 M420.9,372 L423,371.2 M416.1,380.5 L414.1,379.6 M418.1,379.6 L418.4,381.4 M412.4,372 L413.6,370.3 M420.5,381.4 L419,382.6 M425.5,364 L424.6,361.9 M428,365.1 L426.6,363.5 M425.9,361.4 L426.9,362.7 M418,370.3 L417.3,368.7 " stroke="#3c8aa6" stroke-width="1.1" fill="none" stroke-linecap="round"/>
<path d="M426.3,374.7 L433.1,375.1 M426.3,374.7 L431.7,378.2 M426.3,374.7 L429.3,381.3 M426.3,374.7 L424,379.4 M426.3,374.7 L420.6,379 M426.3,374.7 L420.7,375.1 M426.3,374.7 L420.9,369.7 M426.3,374.7 L423.8,368.1 M426.3,374.7 L428.5,367.5 M426.3,374.7 L431.1,372.1 " stroke="#c0114c" stroke-width="1.5" fill="none" stroke-linecap="round"/>
<circle cx="427.3" cy="374.7" r="1.3" fill="#f6d3dc"/>
<ellipse cx="444.8" cy="373" rx="13.7" ry="18.3" fill="url(#teal)" transform="rotate(4 444.8 373)"/>
<path d="M662,50 H1167 A60,60 0 0 1 1227,110 V424 A62,62 0 0 1 1165,486 H664 A62,62 0 0 1 602,424 V385 L553,324.5 L602,305 V110 A60,60 0 0 1 662,50 Z" fill="url(#pink)" stroke="#d8247f" stroke-width="1.4" filter="url(#shbig)"/>
<g filter="url(#shc)">
<path d="M530.3,330.3 C532.2,326.5 543.7,322.4 548.9,321.6 C554.2,320.7 560.9,321.9 564.5,324.7 C568.1,327.4 571.3,335.6 572.3,339.6 C573.3,343.6 572.7,347.4 570.7,350.5 C568.8,353.6 563.9,358.4 559.8,359.8 C555.8,361.3 547.9,362 544.3,359.8 C540.7,357.7 538.7,350.4 536.5,345.8 C534.3,341.3 528.4,334 530.3,330.3 Z" fill="url(#ccell)" stroke="#c8724a" stroke-width="0.9" stroke-dasharray="3.2 1"/><path d="M533.7,332 C535.4,328.8 545.1,325.3 549.6,324.6 C554.1,323.8 559.8,324.8 562.9,327.2 C565.9,329.6 568.7,336.5 569.5,339.9 C570.3,343.3 569.8,346.5 568.1,349.2 C566.5,351.8 562.3,355.9 558.9,357.1 C555.4,358.3 548.7,358.9 545.7,357.1 C542.6,355.3 540.9,349.1 539,345.2 C537.2,341.3 532.1,335.1 533.7,332 Z" fill="none" stroke="#cf7448" stroke-width="0.8" stroke-dasharray="2.2 1.5"/><circle cx="548.9" cy="340.2" r="10" fill="url(#cnuc)"/>
</g>
<g filter="url(#shn)">
<circle cx="512.2" cy="356.5" r="18.2" fill="url(#lb)"/>
<ellipse cx="529.2" cy="354.8" rx="13.7" ry="18.3" fill="url(#teal)" transform="rotate(4 529.2 354.8)"/>
</g>
<path d="M510.9,368.1 L513,368.8 M497.9,351.3 L498.9,352.9 M506.3,353 L504.7,352.2 M501.7,361.8 L500.7,363.4 M507.9,361.7 L507.4,359.5 M514.7,348.9 L516.1,347.1 M504.4,369.2 L503.2,367.5 M513.2,341.6 L515.3,340.6 M510.7,364.8 L510.4,366.8 M508.7,365.6 L509.4,364.1 M513.6,363.2 L511.9,364.8 M510.7,365.6 L508.5,365.1 M501.4,365.8 L502.5,364.2 M497.2,360 L496.3,361.9 M514.1,345.9 L512.7,345.1 M506.3,360 L504.3,359.7 M501.3,351.3 L502.9,350.8 M510.6,345.1 L512.5,344 M499.7,364.7 L500.9,366.4 M506.1,360.8 L505.1,362 M509.7,368 L508.5,366.6 M513.2,368.8 L514.3,370.8 M501,347.6 L500.2,349.1 M509.7,365.7 L511.2,366.4 M508,345.9 L507.5,347.4 M514.3,370.3 L512.9,371.8 M506.7,367.2 L505.3,366.6 M512.7,345.1 L511.6,343.8 M509.9,371 L511,369.9 M500.9,364.1 L500,361.9 M507.4,360.9 L508.9,360.9 M501.6,358.7 L500.9,356.6 M503.3,352.1 L501.3,351.6 M501.1,350.4 L500.4,348.2 " stroke="#3c8aa6" stroke-width="1.1" fill="none" stroke-linecap="round"/>
<path d="M510.7,356.5 L516,357.2 M510.7,356.5 L516,360.2 M510.7,356.5 L513.4,362.8 M510.7,356.5 L508.8,361.4 M510.7,356.5 L506,360.5 M510.7,356.5 L504.2,355.9 M510.7,356.5 L505.7,352.7 M510.7,356.5 L509.6,350.9 M510.7,356.5 L511.8,351.1 M510.7,356.5 L516.2,353.3 " stroke="#c0114c" stroke-width="1.5" fill="none" stroke-linecap="round"/>
<circle cx="511.7" cy="356.5" r="1.3" fill="#f6d3dc"/>
<ellipse cx="529.2" cy="354.8" rx="13.7" ry="18.3" fill="url(#teal)" transform="rotate(4 529.2 354.8)"/>
<text x="271.2" y="80.4" font-family='"Liberation Sans", sans-serif' font-size="18" font-weight="bold" fill="#231f20" text-anchor="start" textLength="47.6" lengthAdjust="spacingAndGlyphs" >5-FU</text>
<text x="363.3" y="80.4" font-family='"Liberation Sans", sans-serif' font-size="18.5" font-weight="normal" fill="#2a2a2a" text-anchor="start" font-style="italic" textLength="43.5" lengthAdjust="spacingAndGlyphs" >TUG1</text>
<text x="407.2" y="80.4" font-family='"Liberation Sans", sans-serif' font-size="18" font-weight="bold" fill="#231f20" text-anchor="start" textLength="49.6" lengthAdjust="spacingAndGlyphs" >-DDS</text>
<path d="M302.1,99.8 L302.9,110.7" stroke="#3a3a3a" stroke-width="1.2" fill="none"/>
<path d="M291.8,116.9 L302.9,110.7" stroke="#3a3a3a" stroke-width="1.3" stroke-dasharray="1.2 1.5" fill="none"/>
<path d="M302.9,110.7 L318.6,121.5" stroke="#3a3a3a" stroke-width="1.3" stroke-dasharray="1.2 1.5" fill="none"/>
<path d="M318.6,121.5 L328.3,117.2" stroke="#3a3a3a" stroke-width="1.3" stroke-dasharray="1.2 1.5" fill="none"/>
<path d="M318.6,121.5 L318.6,141.8" stroke="#3a3a3a" stroke-width="1.2" fill="none"/>
<path d="M318.6,141.8 L306.7,147" stroke="#3a3a3a" stroke-width="1.3" stroke-dasharray="1.2 1.5" fill="none"/>
<path d="M296,146.9 L283.7,141.1" stroke="#3a3a3a" stroke-width="1.3" stroke-dasharray="1.2 1.5" fill="none"/>
<path d="M283,139.8 L273.4,145.2 M284.4,142.4 L274.9,147.8" stroke="#3a3a3a" stroke-width="1.2" stroke-dasharray="1.4 1.2" fill="none"/>
<text x="301.7" y="97.4" font-size="9.8" text-anchor="middle" fill="#7b7b7d" font-weight="bold" font-family='"Liberation Sans", sans-serif'>O</text>
<text x="283.7" y="125" font-size="9.8" text-anchor="middle" fill="#7b7b7d" font-weight="bold" font-family='"Liberation Sans", sans-serif'>HN</text>
<text x="333.7" y="118.3" font-size="9.8" text-anchor="middle" fill="#7b7b7d" font-weight="bold" font-family='"Liberation Sans", sans-serif'>F</text>
<text x="301.3" y="152.9" font-size="9.8" text-anchor="middle" fill="#7b7b7d" font-weight="bold" font-family='"Liberation Sans", sans-serif'>N</text>
<text x="301.3" y="167.1" font-size="9.8" text-anchor="middle" fill="#7b7b7d" font-weight="bold" font-family='"Liberation Sans", sans-serif'>H</text>
<text x="269" y="152.9" font-size="9.8" text-anchor="middle" fill="#7b7b7d" font-weight="bold" font-family='"Liberation Sans", sans-serif'>O</text>
<g filter="url(#shn)">
<circle cx="412.2" cy="121.4" r="18.2" fill="url(#lb)"/>
<ellipse cx="429.2" cy="119.7" rx="13.7" ry="18.3" fill="url(#teal)" transform="rotate(4 429.2 119.7)"/>
</g>
<path d="M399.1,119.5 L398.5,121.7 M402.6,119 L404,119.1 M404.1,133.4 L406.3,134 M402.4,123.6 L400.8,123.2 M403.5,132.6 L404,134.1 M411.4,111.3 L410.1,111.9 M404,112.6 L405.5,113.2 M398.9,119.7 L399,117.9 M407,134.9 L406.2,136.5 M409.6,128.1 L410.6,125.9 M408.6,111.7 L407.8,112.8 M410.6,113.2 L409,114.1 M405,132.3 L404,133.6 M403,118.4 L404.8,118.6 M398.4,125.9 L396.9,125.3 M412.3,112.2 L413.6,113.3 M407.7,113.7 L406.4,114.2 M404.3,126.2 L403.9,127.9 M406.4,113.1 L407.5,115.2 M412,132.6 L414.1,132.4 M403.3,125.9 L404.2,124.7 M397.6,118 L399.6,116.8 M411.1,135.3 L411.2,133.4 M402.2,115.5 L401.8,117.3 M400.4,129.2 L399,129.6 M414,132.3 L413.2,130.6 M412.1,127.8 L410.1,127.3 M403.5,116.8 L405.4,117 M399.7,125.9 L401.3,126.7 M403.5,114.4 L404.8,113.9 M402.4,122.8 L402.4,120.6 M402.2,111 L400.1,110.1 M406.5,132.6 L406.8,134.4 M414.4,132 L415.7,130.2 " stroke="#3c8aa6" stroke-width="1.1" fill="none" stroke-linecap="round"/>
<path d="M410.7,121.4 L418.1,122.2 M410.7,121.4 L415.4,124.2 M410.7,121.4 L413.4,128 M410.7,121.4 L408.3,128.4 M410.7,121.4 L404.6,125.6 M410.7,121.4 L404.8,121.9 M410.7,121.4 L405.4,117.4 M410.7,121.4 L407.7,114.8 M410.7,121.4 L412.2,116.3 M410.7,121.4 L416.6,117.1 " stroke="#c0114c" stroke-width="1.5" fill="none" stroke-linecap="round"/>
<circle cx="411.7" cy="121.4" r="1.3" fill="#f6d3dc"/>
<ellipse cx="429.2" cy="119.7" rx="13.7" ry="18.3" fill="url(#teal)" transform="rotate(4 429.2 119.7)"/>
<path d="M339.2,129.5 C340.8,128.5 345.8,125.2 349,123.5 C352.2,121.8 356.4,119 358.5,119.4 C360.6,119.8 362.2,119.7 361.5,126 C360.8,132.3 356.9,147.6 354,157 C351.1,166.4 347.7,174.5 344,182.3 C340.3,190.1 337.1,195.9 331.9,204 C326.7,212.1 319.1,221.3 312.6,230.6 C306.2,239.9 298.9,250.8 293.2,259.7 C287.5,268.6 283.5,275.8 278.7,283.9 C273.9,291.9 268.2,300.8 264.2,308 C260.2,315.2 256.7,321.8 254.5,327.4 C252.3,333 250.9,337.9 251,341.9 C251.1,345.9 252,349.1 255,351.6 C258,354.1 261.8,356.1 269,356.8 C276.2,357.5 288.9,356.7 298,356 C307.1,355.3 319.2,353.1 323.5,352.5 " fill="none" stroke="#111" stroke-width="2" stroke-linejoin="round"/>
<polygon points="322,345.5 338,352.8 323.5,361.5 326,353.5" fill="#111"/>
<path d="M397.3,126.6 C394.5,130.2 386,140.7 380.3,148.4 C374.6,156.1 369,164.1 363.4,172.6 C357.8,181.1 352.1,191.1 346.5,199.2 C340.9,207.3 334.4,214.2 329.5,221 C324.6,227.8 320.3,234.7 317.4,240.3 C314.4,245.9 312.2,250.4 311.8,254.8 C311.4,259.2 312.1,263.8 315,266.9 C317.9,270 322.6,272.1 329.5,273.2 C336.4,274.2 347.5,273.8 356.1,273.2 C364.7,272.6 376.9,270.1 381,269.5 " fill="none" stroke="#111" stroke-width="2" stroke-linejoin="round"/>
<polygon points="379.5,262.5 395,269.6 381,279 383.5,270.5" fill="#111"/>
<g filter="url(#shn)">
<circle cx="666.6" cy="96.2" r="18.2" fill="url(#lb)"/>
<ellipse cx="683.6" cy="94.5" rx="13.7" ry="18.3" fill="url(#teal)" transform="rotate(4 683.6 94.5)"/>
</g>
<path d="M661.4,82.2 L661.3,79.8 M665.6,111.6 L667,109.9 M660.6,86.4 L659,87.8 M659.2,95.4 L660.7,94.1 M654.7,87.3 L652.9,87.1 M667.5,83 L667.4,84.6 M669,102.7 L669.5,104.2 M660.5,96.5 L659.5,94.8 M663.8,110.5 L662.1,111.8 M661,91.8 L658.7,92.1 M658.3,92.7 L657.1,91.2 M652.4,94.6 L653.9,95.9 M663.6,104.3 L663.3,102.4 M663.9,86 L663.7,84.5 M656.3,103.3 L658.2,101.9 M667.5,104.1 L665.3,104.2 M664.8,108.5 L663.9,106.4 M665.1,102.3 L662.8,102.7 M659.3,94.1 L658.7,96.4 M655.4,92.6 L657.2,92.1 M668.2,108 L667.9,110.2 M665.8,104.2 L667.9,104.2 M656,99.2 L656.8,101.3 M658.3,90.5 L658.2,92.4 M654.9,94 L654.3,91.9 M654.9,94.4 L654.5,96.2 M666.9,104.3 L668.6,105.3 M665.1,103.5 L664.9,105.6 M668.6,90.2 L667.8,92.5 M660.2,86.4 L660.5,84.7 M665,106.3 L666.4,105.8 M655,102.3 L655.3,100.7 M665.5,103.9 L667.1,105.4 M659.8,101.4 L659.4,103.2 " stroke="#3c8aa6" stroke-width="1.1" fill="none" stroke-linecap="round"/>
<path d="M665.1,96.2 L671.7,95.4 M665.1,96.2 L670.7,100.7 M665.1,96.2 L667.3,100.9 M665.1,96.2 L662.7,101.6 M665.1,96.2 L660.6,100.5 M665.1,96.2 L659,96 M665.1,96.2 L659.7,92.5 M665.1,96.2 L663.4,90.6 M665.1,96.2 L666.3,90.3 M665.1,96.2 L669.1,92.8 " stroke="#c0114c" stroke-width="1.5" fill="none" stroke-linecap="round"/>
<circle cx="666.1" cy="96.2" r="1.3" fill="#f6d3dc"/>
<ellipse cx="683.6" cy="94.5" rx="13.7" ry="18.3" fill="url(#teal)" transform="rotate(4 683.6 94.5)"/>
<g filter="url(#shs)"><path d="M667,122 h8.6 v29.3 h18.8 v7.5 h-45.6 v-7.5 h18.2 Z" fill="#231f20"/></g>
<text x="648.2" y="183.8" font-family='"Liberation Sans", sans-serif' font-size="19.5" font-weight="normal" fill="#3a3235" text-anchor="start" font-style="italic" textLength="48" lengthAdjust="spacingAndGlyphs" >TUG1</text>
<path d="M712,165.3 H740.8" stroke="#1a1214" stroke-width="2" fill="none"/><polygon points="733.8,158.10000000000002 748.8,165.3 733.8,172.5" fill="#1a1214"/>
<text x="754.5" y="171.3" font-family='"Liberation Sans", sans-serif' font-size="17.5" font-weight="bold" fill="#2b2125" text-anchor="start" textLength="124.4" lengthAdjust="spacingAndGlyphs" >miR-376b-3p</text>
<polygon points="917,146.2 929.6,170 921.7,170 921.7,183.8 912.4,183.8 912.4,170 904.4,170" fill="#1d0f13"/>
<path d="M945,165.6 H973.3" stroke="#1a1214" stroke-width="2" fill="none"/><polygon points="966.3,158.4 981.3,165.6 966.3,172.79999999999998" fill="#1a1214"/>
<text x="1070.5" y="145.5" font-family='"Liberation Sans", sans-serif' font-size="18" font-weight="bold" fill="#3a2c30" text-anchor="middle" textLength="177" lengthAdjust="spacingAndGlyphs" >Dihydropyrimidine</text>
<text x="1070.4" y="171.3" font-family='"Liberation Sans", sans-serif' font-size="18" font-weight="bold" fill="#3a2c30" text-anchor="middle" textLength="146" lengthAdjust="spacingAndGlyphs" >dehydrogenase</text>
<text x="1070.5" y="197.5" font-family='"Liberation Sans", sans-serif' font-size="18" font-weight="bold" fill="#3a2c30" text-anchor="middle" textLength="73.4" lengthAdjust="spacingAndGlyphs" >(DPYD)</text>
<polygon points="1184.3,148.8 1193.8,148.8 1193.8,163.8 1202,163.8 1189,187.5 1176.2,163.8 1184.3,163.8" fill="#1d0f13"/>
<path d="M1049.5,215.5 C1046,238 1010,254 960,258 C905,261 858,268 840,290" fill="none" stroke="#111" stroke-width="2"/>
<polygon points="831,286.5 845.5,289.5 845,296 832,302.5" fill="#111"/>
<text x="802.2" y="327.5" font-family='"Liberation Sans", sans-serif' font-size="19.3" font-weight="bold" fill="#2b2125" text-anchor="start" textLength="40.6" lengthAdjust="spacingAndGlyphs" >DPD</text>
<polygon points="858.8,297 868,297 868,312 875.6,312 863.5,335.5 851.2,312 858.8,312" fill="#1d0f13"/>
<path d="M800,344.2 H839.8" stroke="#1a1214" stroke-width="2.5" stroke-dasharray="6.5 4.2" fill="none"/><polygon points="838.8,336.2 853.8,344.2 838.8,352.2" fill="#1a1214"/>
<path d="M968.8,345 H1010.5" stroke="#1a1214" stroke-width="2.5" stroke-dasharray="6.5 4.2" fill="none"/><polygon points="1009.5,337 1024.5,345 1009.5,353" fill="#1a1214"/>
<path d="M695,257 L703.3,252.5" stroke="#3d3034" stroke-width="1.3" stroke-dasharray="1.2 1.5" fill="none"/>
<path d="M703.3,252.5 L719.5,261.3" stroke="#3d3034" stroke-width="1.3" stroke-dasharray="1.2 1.5" fill="none"/>
<path d="M719.5,261.3 L729.7,256.8" stroke="#3d3034" stroke-width="1.3" stroke-dasharray="1.2 1.5" fill="none"/>
<path d="M719.5,261.3 L719.5,283.8" stroke="#3d3034" stroke-width="1.2" fill="none"/>
<path d="M719.5,283.8 L708.7,287.9" stroke="#3d3034" stroke-width="1.3" stroke-dasharray="1.2 1.5" fill="none"/>
<path d="M698.2,287.4 L686.3,281.3" stroke="#3d3034" stroke-width="1.3" stroke-dasharray="1.2 1.5" fill="none"/>
<path d="M685.6,280 L675.1,285.9 M687,282.6 L676.6,288.5" stroke="#3d3034" stroke-width="1.2" stroke-dasharray="1.4 1.2" fill="none"/>
<text x="703.3" y="239" font-size="9.6" text-anchor="middle" fill="#84787c" font-weight="bold" font-family='"Liberation Sans", sans-serif'>O</text>
<text x="687" y="264.8" font-size="9.6" text-anchor="middle" fill="#84787c" font-weight="bold" font-family='"Liberation Sans", sans-serif'>HN</text>
<text x="735" y="258" font-size="9.6" text-anchor="middle" fill="#84787c" font-weight="bold" font-family='"Liberation Sans", sans-serif'>F</text>
<text x="703.3" y="293.5" font-size="9.6" text-anchor="middle" fill="#84787c" font-weight="bold" font-family='"Liberation Sans", sans-serif'>N</text>
<text x="703.3" y="306.8" font-size="9.6" text-anchor="middle" fill="#84787c" font-weight="bold" font-family='"Liberation Sans", sans-serif'>H</text>
<text x="670.8" y="293.5" font-size="9.6" text-anchor="middle" fill="#84787c" font-weight="bold" font-family='"Liberation Sans", sans-serif'>O</text>
<path d="M656,325.3 L656,337 M659,325.3 L659,337" stroke="#3d3034" stroke-width="1.2" fill="none"/>
<path d="M648.1,342 L657.5,337" stroke="#3d3034" stroke-width="1.3" stroke-dasharray="1.2 1.5" fill="none"/>
<path d="M657.5,337 L675.5,346.3" stroke="#3d3034" stroke-width="1.3" stroke-dasharray="1.2 1.5" fill="none"/>
<path d="M675.5,346.3 L684.3,342" stroke="#3d3034" stroke-width="1.3" stroke-dasharray="1.2 1.5" fill="none"/>
<path d="M675.5,346.3 L675.5,367.5" stroke="#3d3034" stroke-width="1.2" fill="none"/>
<path d="M675.5,367.5 L662.8,372.8" stroke="#3d3034" stroke-width="1.3" stroke-dasharray="1.2 1.5" fill="none"/>
<path d="M652.3,372.4 L640,366.3" stroke="#3d3034" stroke-width="1.3" stroke-dasharray="1.2 1.5" fill="none"/>
<path d="M639.3,365 L628.8,370.9 M640.7,367.6 L630.3,373.5" stroke="#3d3034" stroke-width="1.2" stroke-dasharray="1.4 1.2" fill="none"/>
<text x="657.5" y="323" font-size="9.6" text-anchor="middle" fill="#84787c" font-weight="bold" font-family='"Liberation Sans", sans-serif'>O</text>
<text x="640" y="349.8" font-size="9.6" text-anchor="middle" fill="#84787c" font-weight="bold" font-family='"Liberation Sans", sans-serif'>HN</text>
<text x="689.5" y="343" font-size="9.6" text-anchor="middle" fill="#84787c" font-weight="bold" font-family='"Liberation Sans", sans-serif'>F</text>
<text x="657.5" y="378.5" font-size="9.6" text-anchor="middle" fill="#84787c" font-weight="bold" font-family='"Liberation Sans", sans-serif'>N</text>
<text x="657.5" y="392.3" font-size="9.6" text-anchor="middle" fill="#84787c" font-weight="bold" font-family='"Liberation Sans", sans-serif'>H</text>
<text x="624.5" y="378.5" font-size="9.6" text-anchor="middle" fill="#84787c" font-weight="bold" font-family='"Liberation Sans", sans-serif'>O</text>
<path d="M742.9,314.5 L743.8,326.3" stroke="#3d3034" stroke-width="1.2" fill="none"/>
<path d="M734.1,332.2 L743.8,326.3" stroke="#3d3034" stroke-width="1.3" stroke-dasharray="1.2 1.5" fill="none"/>
<path d="M743.8,326.3 L762,335" stroke="#3d3034" stroke-width="1.3" stroke-dasharray="1.2 1.5" fill="none"/>
<path d="M762,335 L769.6,332.1" stroke="#3d3034" stroke-width="1.3" stroke-dasharray="1.2 1.5" fill="none"/>
<path d="M715.8,364.3 L724.5,360.1 M714.5,361.6 L723.1,357.5" stroke="#3d3034" stroke-width="1.2" stroke-dasharray="1.4 1.2" fill="none"/>
<path d="M723.8,358.8 L737.1,363.6" stroke="#3d3034" stroke-width="1.3" stroke-dasharray="1.2 1.5" fill="none"/>
<path d="M751.3,362.5 L761.3,356.3" stroke="#3d3034" stroke-width="1.3" stroke-dasharray="1.2 1.5" fill="none"/>
<text x="742.5" y="312.3" font-size="9.6" text-anchor="middle" fill="#84787c" font-weight="bold" font-family='"Liberation Sans", sans-serif'>O</text>
<text x="726.3" y="340.5" font-size="9.6" text-anchor="middle" fill="#84787c" font-weight="bold" font-family='"Liberation Sans", sans-serif'>HN</text>
<text x="775" y="333.5" font-size="9.6" text-anchor="middle" fill="#84787c" font-weight="bold" font-family='"Liberation Sans", sans-serif'>F</text>
<text x="710" y="369" font-size="9.6" text-anchor="middle" fill="#84787c" font-weight="bold" font-family='"Liberation Sans", sans-serif'>O</text>
<text x="742.5" y="369" font-size="9.6" text-anchor="middle" fill="#84787c" font-weight="bold" font-family='"Liberation Sans", sans-serif'>N</text>
<text x="742.5" y="383" font-size="9.6" text-anchor="middle" fill="#84787c" font-weight="bold" font-family='"Liberation Sans", sans-serif'>H</text>
<path d="M906,334.7 L914.8,330" stroke="#3d3034" stroke-width="1.3" stroke-dasharray="1.2 1.5" fill="none"/>
<path d="M914.8,330 L935.2,340.4" stroke="#3d3034" stroke-width="1.3" stroke-dasharray="1.2 1.5" fill="none"/>
<path d="M935.2,340.4 L943.9,333.3" stroke="#3d3034" stroke-width="1.3" stroke-dasharray="1.2 1.5" fill="none"/>
<path d="M935.2,340.4 L942.8,341.1" stroke="#3d3034" stroke-width="1.3" stroke-dasharray="1.2 1.5" fill="none"/>
<path d="M934.2,360 L943.2,356" stroke="#3d3034" stroke-width="1.3" stroke-dasharray="1.2 1.5" fill="none"/>
<path d="M934.2,360 L943.1,363.6" stroke="#3d3034" stroke-width="1.3" stroke-dasharray="1.2 1.5" fill="none"/>
<path d="M934.2,360 L920,366.6" stroke="#3d3034" stroke-width="1.3" stroke-dasharray="1.2 1.5" fill="none"/>
<path d="M909.6,366.6 L896.1,360.4" stroke="#3d3034" stroke-width="1.3" stroke-dasharray="1.2 1.5" fill="none"/>
<path d="M895.3,359.1 L886,364.7 M896.9,361.7 L887.6,367.3" stroke="#3d3034" stroke-width="1.2" stroke-dasharray="1.4 1.2" fill="none"/>
<text x="914.8" y="316.3" font-size="9.6" text-anchor="middle" fill="#84787c" font-weight="bold" font-family='"Liberation Sans", sans-serif'>O</text>
<text x="898" y="342.5" font-size="9.6" text-anchor="middle" fill="#84787c" font-weight="bold" font-family='"Liberation Sans", sans-serif'>HN</text>
<text x="948.3" y="333.1" font-size="9.6" text-anchor="middle" fill="#84787c" font-weight="bold" font-family='"Liberation Sans", sans-serif'>F</text>
<text x="948.5" y="345.1" font-size="9.6" text-anchor="middle" fill="#84787c" font-weight="bold" font-family='"Liberation Sans", sans-serif'>H</text>
<text x="948.5" y="357.2" font-size="9.6" text-anchor="middle" fill="#84787c" font-weight="bold" font-family='"Liberation Sans", sans-serif'>H</text>
<text x="948.5" y="369.2" font-size="9.6" text-anchor="middle" fill="#84787c" font-weight="bold" font-family='"Liberation Sans", sans-serif'>H</text>
<text x="914.8" y="372.5" font-size="9.6" text-anchor="middle" fill="#84787c" font-weight="bold" font-family='"Liberation Sans", sans-serif'>N</text>
<text x="914.8" y="384.8" font-size="9.6" text-anchor="middle" fill="#84787c" font-weight="bold" font-family='"Liberation Sans", sans-serif'>H</text>
<text x="881.9" y="372.5" font-size="9.6" text-anchor="middle" fill="#84787c" font-weight="bold" font-family='"Liberation Sans", sans-serif'>O</text>
<text x="1028.3" y="363" font-family='"Liberation Sans", sans-serif' font-size="9.5" fill="#4a3c40" font-weight="bold" textLength="18" lengthAdjust="spacingAndGlyphs">H<tspan font-size="6.5" dy="2">2</tspan><tspan dy="-2">N</tspan></text>
<text x="1056.2" y="363" font-family='"Liberation Sans", sans-serif' font-size="9.5" fill="#4a3c40" font-weight="bold" textLength="6.3" lengthAdjust="spacingAndGlyphs">C</text>
<text x="1078" y="363" font-family='"Liberation Sans", sans-serif' font-size="9.5" fill="#4a3c40" font-weight="bold" textLength="13.3" lengthAdjust="spacingAndGlyphs">HN</text>
<text x="1105.5" y="363" font-family='"Liberation Sans", sans-serif' font-size="9.5" fill="#4a3c40" font-weight="bold" textLength="19" lengthAdjust="spacingAndGlyphs">CH<tspan font-size="6.5" dy="2">2</tspan></text>
<text x="1137.5" y="363" font-family='"Liberation Sans", sans-serif' font-size="9.5" fill="#4a3c40" font-weight="bold" textLength="13" lengthAdjust="spacingAndGlyphs">CH</text>
<text x="1160.5" y="363" font-family='"Liberation Sans", sans-serif' font-size="9.5" fill="#4a3c40" font-weight="bold" textLength="29.5" lengthAdjust="spacingAndGlyphs">COOH</text>
<text x="1056.3" y="338.5" font-family='"Liberation Sans", sans-serif' font-size="9" fill="#4a3c40" font-weight="bold">O</text>
<text x="1137" y="338.5" font-family='"Liberation Sans", sans-serif' font-size="9" fill="#4a3c40" font-weight="bold">F</text>
<path d="M1048,359.5 H1054.5 M1065,359.5 H1072.5 M1095.5,359.5 H1104.5 M1126,359.5 H1136.5 M1153,359.5 H1158 M1058,341.5 V352.5 M1061,341.5 V352.5 M1139.8,341.5 V352.5" stroke="#4a3c40" stroke-width="1.1" fill="none"/>
<text x="622" y="441.3" font-family='"Liberation Sans", sans-serif' font-size="31" font-weight="bold" fill="#231f20" text-anchor="start" textLength="137" lengthAdjust="spacingAndGlyphs" >Cytotoxic</text>
<polygon points="792.5,401.3 1084.2,460.5 792.5,460.5" fill="url(#tri)" stroke="#a3121f" stroke-width="1" filter="url(#shbig)"/>
<text x="1037.8" y="435.5" font-family='"Liberation Sans", sans-serif' font-size="19" font-weight="bold" fill="#181214" text-anchor="start" textLength="136.4" lengthAdjust="spacingAndGlyphs" >Non-cytotoxic</text>
<text x="29.6" y="480.4" font-family='"Liberation Sans", sans-serif' font-size="25.5" font-weight="normal" fill="#434345" text-anchor="start" textLength="86" lengthAdjust="spacingAndGlyphs" >Normal</text>
<text x="428" y="481.2" font-family='"Liberation Sans", sans-serif' font-size="25" font-weight="normal" fill="#434345" text-anchor="start" textLength="70" lengthAdjust="spacingAndGlyphs" >PDAC</text>
<text y="535.3" font-family='"Liberation Sans", sans-serif' font-size="20" font-weight="bold" fill="#1f1f21"><tspan x="76.2" textLength="96.6" lengthAdjust="spacingAndGlyphs">TUG1-DDS</tspan> <tspan x="178.7" textLength="14.1" lengthAdjust="spacingAndGlyphs">is</tspan> <tspan x="199.2" textLength="21.6" lengthAdjust="spacingAndGlyphs">an</tspan> <tspan x="227.2" textLength="82.4" lengthAdjust="spacingAndGlyphs">effective</tspan> <tspan x="315.5" textLength="98.3" lengthAdjust="spacingAndGlyphs">modulator</tspan> <tspan x="419.2" textLength="19.1" lengthAdjust="spacingAndGlyphs">to</tspan> <tspan x="445" textLength="63.3" lengthAdjust="spacingAndGlyphs">reduce</tspan> <tspan x="515.5" textLength="19.1" lengthAdjust="spacingAndGlyphs">or</tspan> <tspan x="541.2" textLength="51.6" lengthAdjust="spacingAndGlyphs">avoid</tspan> <tspan x="599.2" textLength="81.6" lengthAdjust="spacingAndGlyphs">systemic</tspan> <tspan x="687.2" textLength="74.1" lengthAdjust="spacingAndGlyphs">adverse</tspan> <tspan x="767.2" textLength="63.6" lengthAdjust="spacingAndGlyphs">effects</tspan> <tspan x="837.2" textLength="19.1" lengthAdjust="spacingAndGlyphs">of</tspan> <tspan x="862.2" textLength="44.9" lengthAdjust="spacingAndGlyphs">5-FU</tspan> <tspan x="913.7" textLength="34.1" lengthAdjust="spacingAndGlyphs">and</tspan> <tspan x="954.2" textLength="57.4" lengthAdjust="spacingAndGlyphs">meets</tspan> <tspan x="1017.5" textLength="110.8" lengthAdjust="spacingAndGlyphs">appropriate</tspan> <tspan x="1134.7" textLength="69.1" lengthAdjust="spacingAndGlyphs">dosage</tspan></text>
<text y="561.5" font-family='"Liberation Sans", sans-serif' font-size="20" font-weight="bold" fill="#1f1f21"><tspan x="76.2" textLength="125.1" lengthAdjust="spacingAndGlyphs">requirements</tspan> <tspan x="208" textLength="14.8" lengthAdjust="spacingAndGlyphs">in</tspan> <tspan x="229.2" textLength="81.6" lengthAdjust="spacingAndGlyphs">targeted</tspan> <tspan x="317.2" textLength="53.6" lengthAdjust="spacingAndGlyphs">PDAC</tspan> <tspan x="378" textLength="47.2" lengthAdjust="spacingAndGlyphs">cells.</tspan></text></svg>
</body></html>
